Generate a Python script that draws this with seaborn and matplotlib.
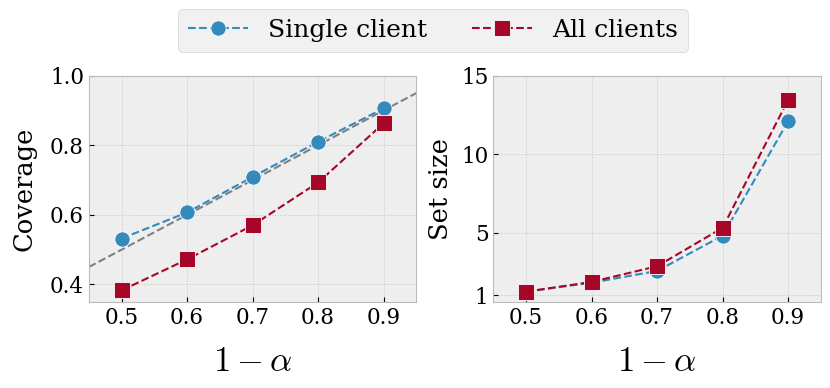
import matplotlib
matplotlib.use("Agg")
import matplotlib.pyplot as plt
import seaborn as sns
import pandas as pd

# values
levels = [0.5, 0.6, 0.7, 0.8, 0.9]
cov_single = [0.532, 0.607, 0.709, 0.810, 0.906]
cov_all = [0.383, 0.472, 0.570, 0.693, 0.863]
size_single = [1.23, 1.80, 2.55, 4.80, 12.1]
size_all = [1.23, 1.85, 2.85, 5.30, 13.45]
series_names = ["Single client", "All clients"]

plt.style.use("bmh")
plt.rcParams["font.family"] = ["DejaVu Serif"]
plt.rcParams["mathtext.fontset"] = "cm"

blue = "#348ABD"
red = "#A60628"

fig, axes = plt.subplots(1, 2, figsize=(8.3, 3.88), dpi=100)
fig.subplots_adjust(left=0.107, right=0.989, bottom=0.222, top=0.805, wspace=0.235)

df_cov = pd.DataFrame({"x": levels * 2, "y": cov_single + cov_all,
                       "series": [series_names[0]] * 5 + [series_names[1]] * 5})
df_size = pd.DataFrame({"x": levels * 2, "y": size_single + size_all,
                        "series": [series_names[0]] * 5 + [series_names[1]] * 5})

# Coverage panel
ax = axes[0]
ax.plot([0.45, 0.95], [0.45, 0.95], color="gray", linestyle="--", linewidth=1.5, zorder=1)
for name, color, mk in zip(series_names, [blue, red], ["o", "s"]):
    sub = df_cov[df_cov["series"] == name]
    sns.lineplot(x="x", y="y", data=sub, ax=ax, color=color, marker=mk, markersize=11,
                 markeredgewidth=0.6, linestyle="--", linewidth=1.5, label=name, legend=False)
ax.set_xlim(0.45, 0.95)
ax.set_ylim(0.35, 1.0)
ax.set_yticks([0.4, 0.6, 0.8, 1.0])
ax.set_ylabel("Coverage", fontsize=18.5, labelpad=10)

# Set size panel
ax = axes[1]
for name, color, mk in zip(series_names, [blue, red], ["o", "s"]):
    sub = df_size[df_size["series"] == name]
    sns.lineplot(x="x", y="y", data=sub, ax=ax, color=color, marker=mk, markersize=11,
                 markeredgewidth=0.6, linestyle="--", linewidth=1.5, label=name, legend=False)
ax.set_xlim(0.45, 0.95)
ax.set_ylim(0.58, 15)
ax.set_yticks([1, 5, 10, 15])
ax.set_ylabel("Set size", fontsize=18.5, labelpad=6)

for ax in axes:
    ax.set_xticks(levels)
    ax.set_xticklabels([f"{v:.1f}" for v in levels])
    ax.tick_params(labelsize=15.5)
    ax.set_xlabel(r"$1-\alpha$", fontsize=25, labelpad=11)
    ax.grid(True, linestyle=":", color="#c4c4c4", linewidth=0.7)

handles, labels = axes[0].get_legend_handles_labels()
handles = [h for h, l in zip(handles, labels) if l in series_names]
fig.legend(handles, series_names, loc="upper center", ncol=2, fontsize=18,
           bbox_to_anchor=(0.522, 1.01), frameon=True, facecolor="#eeeeee",
           edgecolor="#cccccc", handlelength=2.4, columnspacing=1.8)

fig.savefig("out.png", dpi=100)
